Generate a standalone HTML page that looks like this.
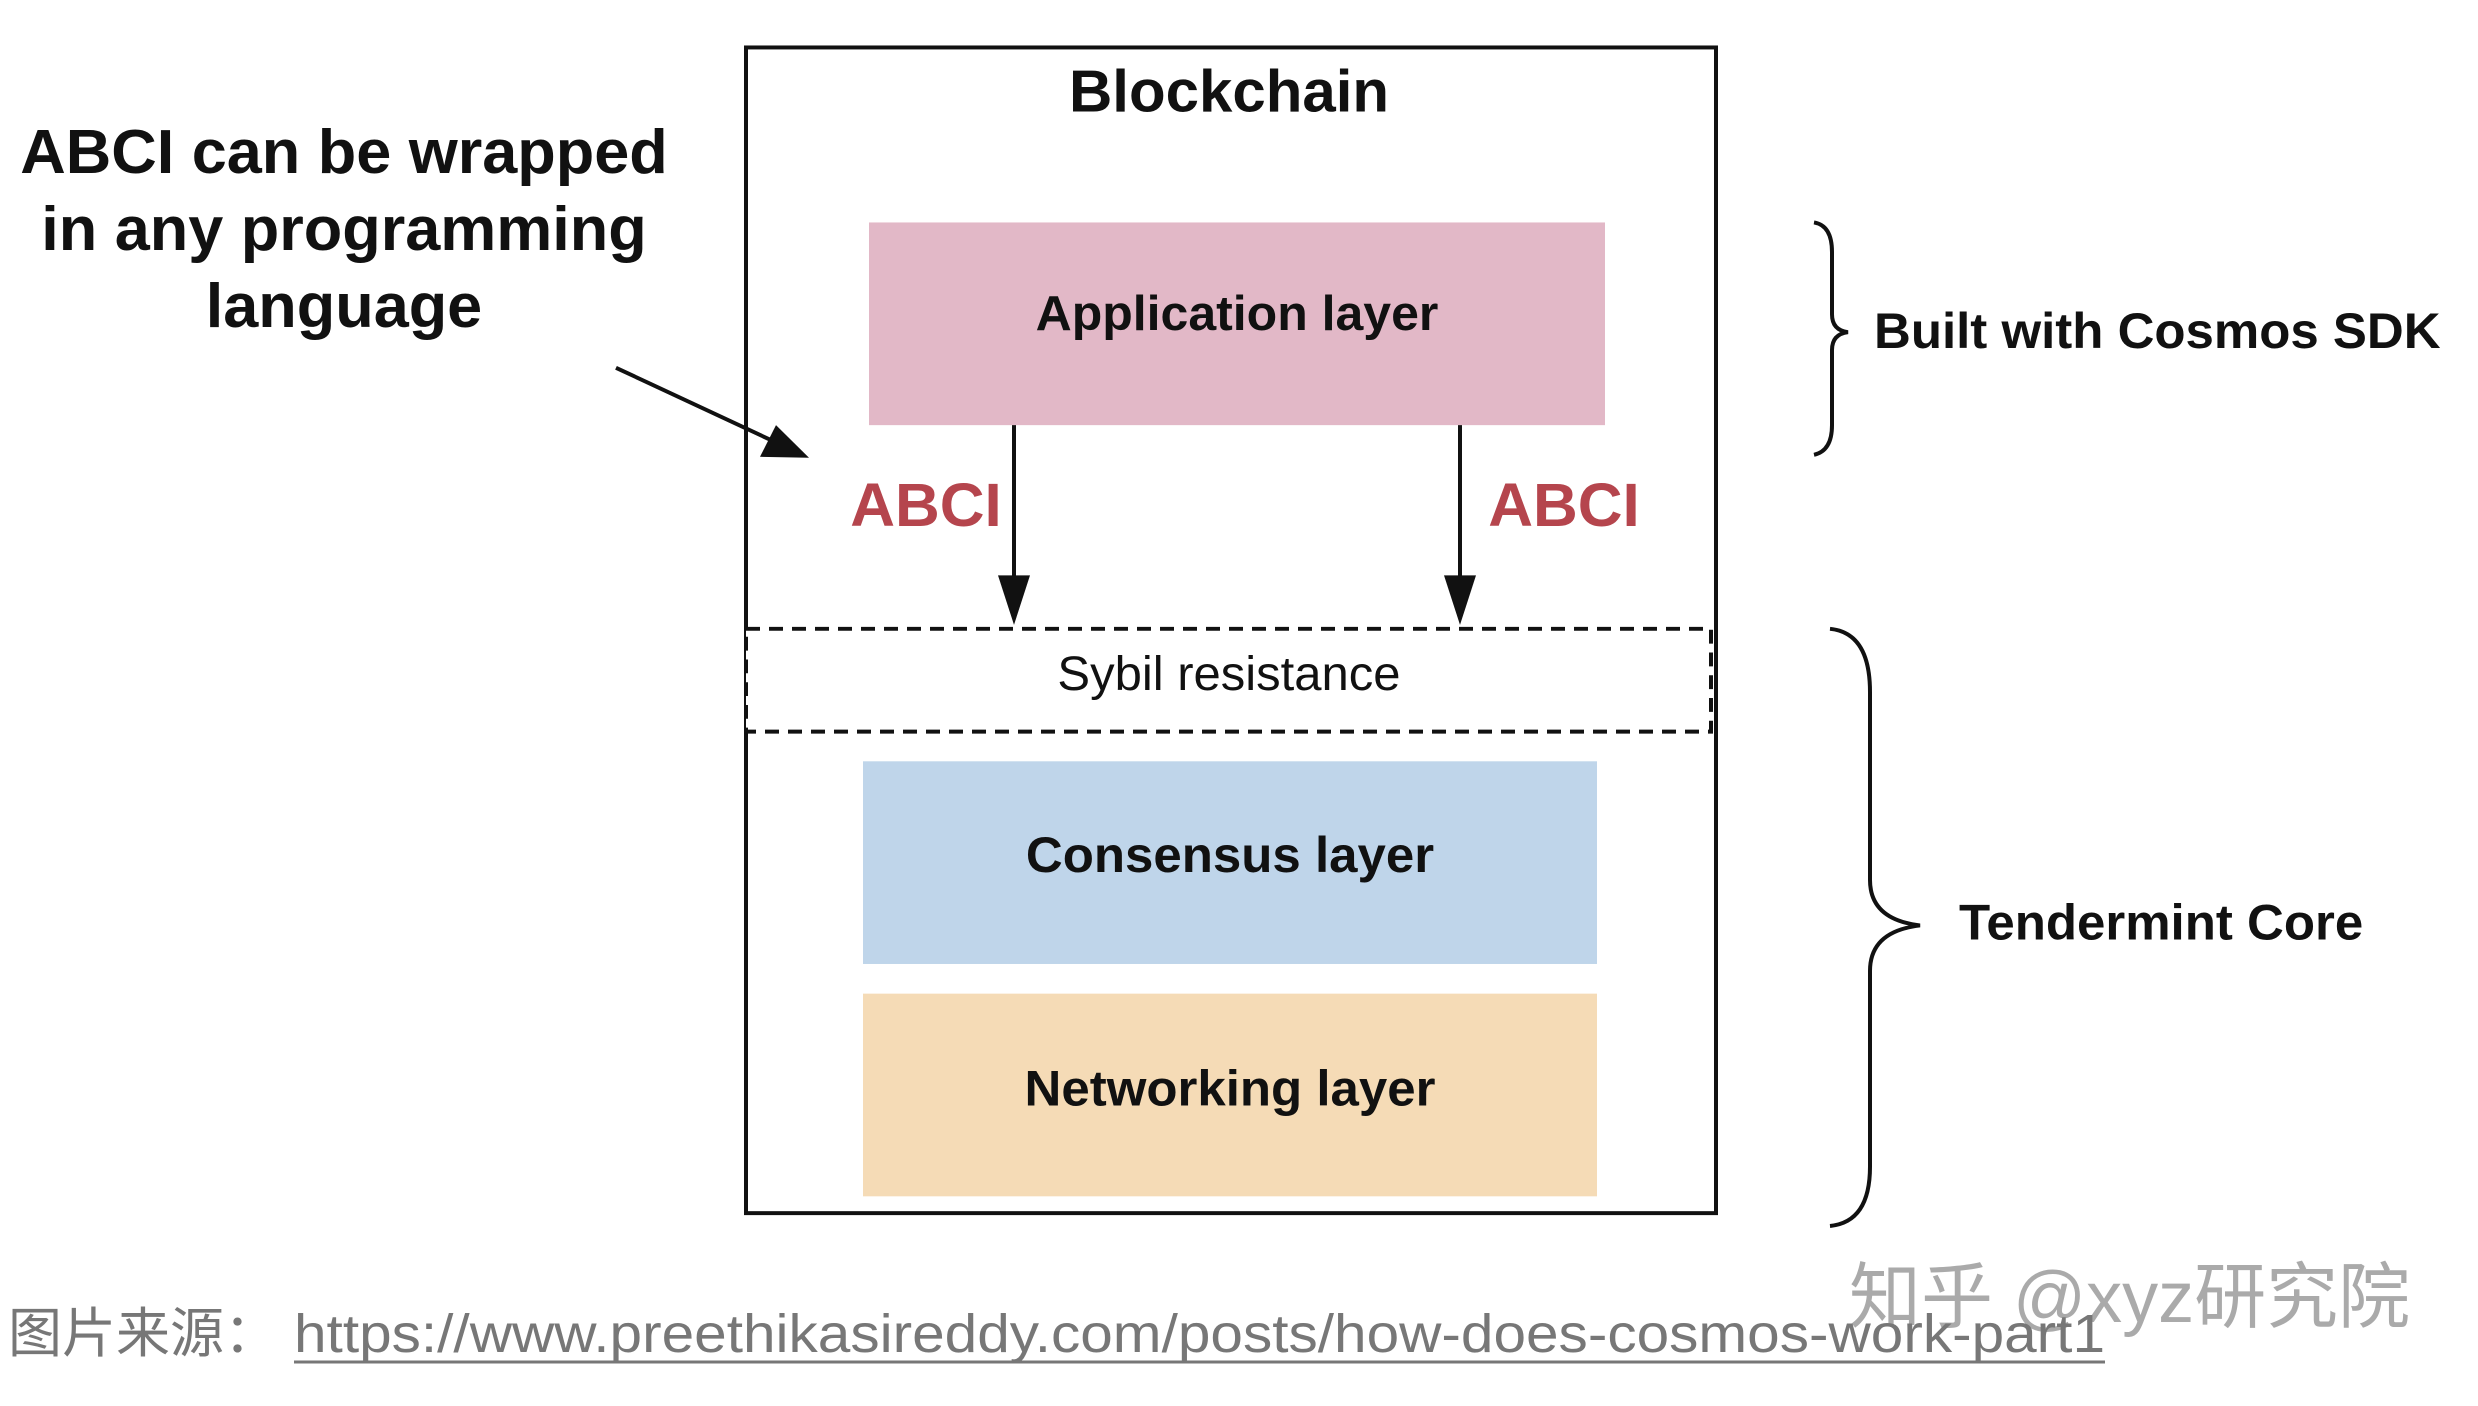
<!DOCTYPE html>
<html><head><meta charset="utf-8"><style>
html,body{margin:0;padding:0;background:#fff;width:2478px;height:1406px;overflow:hidden}
svg{display:block}
</style></head><body>
<svg width="2478" height="1406" viewBox="0 0 2478 1406" xmlns="http://www.w3.org/2000/svg" font-family="Liberation Sans, Arial, sans-serif">
<g transform="scale(1,0.9887)">
<rect x="746" y="48" width="970" height="1179" fill="#fff" stroke="#111" stroke-width="4"/>
<text x="1229" y="113" font-size="60" font-weight="bold" text-anchor="middle" fill="#111">Blockchain</text>
<rect x="869" y="225" width="736" height="205" fill="#e2b8c7"/>
<text x="1237" y="334" font-size="50" font-weight="bold" text-anchor="middle" fill="#111">Application layer</text>
<line x1="1014" y1="430" x2="1014" y2="590" stroke="#111" stroke-width="4"/>
<polygon points="998,582 1030,582 1014,632" fill="#111"/>
<line x1="1460" y1="430" x2="1460" y2="590" stroke="#111" stroke-width="4"/>
<polygon points="1444,582 1476,582 1460,632" fill="#111"/>
<text x="926" y="532" font-size="62" font-weight="bold" text-anchor="middle" fill="#b5454d">ABCI</text>
<text x="1564" y="532" font-size="62" font-weight="bold" text-anchor="middle" fill="#b5454d">ABCI</text>
<rect x="746" y="636" width="965" height="104" fill="#fff" stroke="#111" stroke-width="4" stroke-dasharray="14,9"/>
<text x="1229" y="698" font-size="49" text-anchor="middle" fill="#111">Sybil resistance</text>
<rect x="863" y="770" width="734" height="205" fill="#bfd5ea"/>
<text x="1230" y="882" font-size="51" font-weight="bold" text-anchor="middle" fill="#111">Consensus layer</text>
<rect x="863" y="1005" width="734" height="205" fill="#f5dbb6"/>
<text x="1230" y="1118" font-size="51" font-weight="bold" text-anchor="middle" fill="#111">Networking layer</text>
<path d="M1814,225 Q1832,228 1832,255 L1832,318 Q1832,334 1848,336 Q1832,338 1832,354 L1832,430 Q1832,456 1814,460" fill="none" stroke="#111" stroke-width="4"/>
<text x="1874" y="352" font-size="51" font-weight="bold" fill="#111">Built with Cosmos SDK</text>
<path d="M1830,636 Q1870,640 1870,700 L1870,890 Q1870,930 1920,936 Q1870,942 1870,982 L1870,1180 Q1870,1236 1830,1240" fill="none" stroke="#111" stroke-width="4"/>
<text x="1959" y="950" font-size="51" font-weight="bold" fill="#111">Tendermint Core</text>
<g font-size="63" font-weight="bold" text-anchor="middle" fill="#111">
<text x="344" y="175">ABCI can be wrapped</text>
<text x="344" y="253">in any programming</text>
<text x="344" y="331">language</text>
</g>
<line x1="616" y1="372" x2="775" y2="447" stroke="#111" stroke-width="4"/>
<polygon points="809,463 760,462 776,430" fill="#111"/>
</g>
<text x="1849" y="1322" font-size="72" fill="#aaa" font-family="Liberation Sans, Noto Sans CJK SC, sans-serif">知乎 @xyz研究院</text>
<text x="8" y="1352" font-size="54" fill="#777" font-family="Liberation Sans, Noto Sans CJK SC, sans-serif">图片来源：</text>
<text x="294" y="1352" font-size="54" fill="#777" textLength="1811" lengthAdjust="spacingAndGlyphs">https://www.preethikasireddy.com/posts/how-does-cosmos-work-part1</text>
<line x1="294" y1="1362" x2="2105" y2="1362" stroke="#777" stroke-width="3"/>
</svg>
</body></html>
